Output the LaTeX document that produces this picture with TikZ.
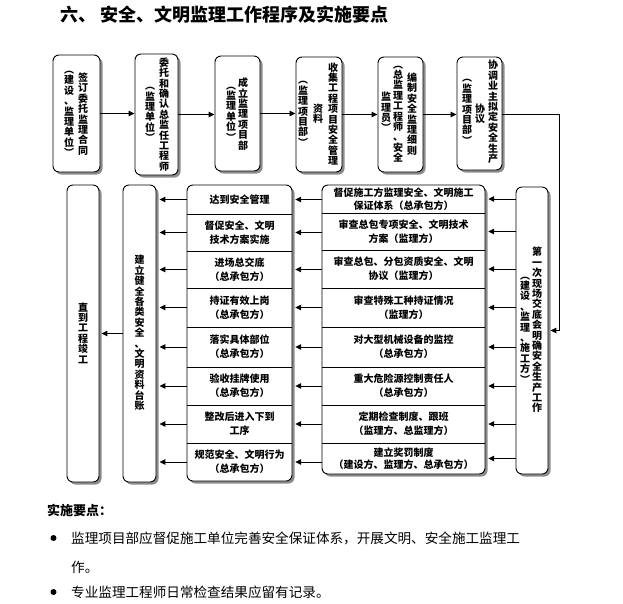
\documentclass[tikz,border=0pt]{standalone}
\usepackage{fontspec}
\setmainfont{Noto Sans CJK SC}
\usetikzlibrary{arrows.meta,shadows}
\def\vstEnd{vstEndMarker}
\def\vst#1{\vstA#1\vstEnd}
\def\vstA#1{#1\vstB}
\def\vstB#1{\ifx#1\vstEnd\else\\#1\expandafter\vstB\fi}
\tikzset{
 box/.style={draw, line width=0.9pt, rounded corners=6pt, fill=white, inner sep=0pt,
   drop shadow={shadow xshift=2.5pt, shadow yshift=-2.5pt, fill=black!45, opacity=1}},
 vcol/.style={align=center, inner sep=0pt, font=\bfseries\fontsize{10}{10.4}\selectfont},
 rowbox/.style={rectangle, inner sep=0pt, align=center, font=\bfseries\fontsize{10}{14}\selectfont},
 arr/.style={line width=1pt, -{Triangle[length=6pt,width=5.5pt]}},
 divider/.style={line width=0.9pt},
}
\begin{document}
\begin{tikzpicture}[x=1pt,y=-1pt]
\useasboundingbox (0,0) rectangle (623,603);
% title
\node[anchor=west, inner sep=0pt, font=\bfseries\fontsize{18}{18}\selectfont] (title) at (60,15) {六、 安全、文明监理工作程序及实施要点};
% top row boxes
\node[box, minimum width=47pt, minimum height=117pt] (T1) at (76.5,113.5) {};
\node[box, minimum width=43pt, minimum height=121pt] (T2) at (156.5,114.5) {};
\node[box, minimum width=45pt, minimum height=115pt] (T3) at (237.5,113.5) {};
\node[box, minimum width=46pt, minimum height=115pt] (T4) at (319,114.5) {};
\node[box, minimum width=45pt, minimum height=115pt] (T5) at (400.5,114.5) {};
\node[box, minimum width=45pt, minimum height=113pt] (T6) at (479.5,113.5) {};
% top row texts
\node[vcol] (t1r) at (83,114) {\vst{签订委托监理合同}};
\node[vcol] (t1l) at (69,114) {\vst{︵建设、监理单位︶}};
\node[vcol] (t2r) at (164,114.5) {\vst{委托和确认总监任工程师}};
\node[vcol] (t2l) at (150,114.5) {\vst{︵监理单位︶}};
\node[vcol] (t3r) at (243,114) {\vst{成立监理项目部}};
\node[vcol] (t3l) at (231,114) {\vst{︵监理单位︶}};
\node[vcol] (t4r) at (333,114) {\vst{收集工程项目安全管理}};
\node[vcol] (t4m) at (318,114) {\vst{资料}};
\node[vcol] (t4l) at (303,114) {\vst{︵监理项目部︶}};
\node[vcol] (t5r) at (412,114) {\vst{编制安全监理细则}};
\node[vcol] (t5m) at (398,114) {\vst{︵总监理工程师、安全}};
\node[vcol] (t5l) at (386,112) {\vst{监理员︶}};
\node[vcol] (t6r) at (493,112) {\vst{协调业主拟定安全生产}};
\node[vcol] (t6m) at (480,114) {\vst{协议}};
\node[vcol] (t6l) at (467,112) {\vst{︵监理项目部︶}};
% top row arrows
\draw[arr] (T1.east) -- (T1.east -| T2.west);
\draw[arr] (T2.east) -- (T2.east -| T3.west);
\draw[arr] (T3.east) -- (T3.east -| T4.west);
\draw[arr] (T4.east) -- (T4.east -| T5.west);
\draw[arr] (T5.east) -- (T5.east -| T6.west);
% second row boxes
\node[box, minimum width=32pt, minimum height=297pt] (D) at (83,333.5) {};
\node[box, minimum width=33pt, minimum height=297pt] (J) at (139.5,333.5) {};
\node[box, minimum width=105pt, minimum height=296pt] (LC) at (239.5,333) {};
\node[box, minimum width=163pt, minimum height=289pt] (RC) at (403.5,329.5) {};
\node[box, minimum width=32pt, minimum height=287pt] (RB) at (532,330.5) {};
\node[vcol] (dtxt) at (83,333) {\vst{直到工程竣工}};
\node[vcol] (jtxt) at (139.5,333) {\vst{建立健全各类安全、文明资料台账}};
\node[vcol] (rbr) at (537,330) {\vst{第一次现场交底会明确安全生产工作}};
\node[vcol] (rbl) at (525,330) {\vst{︵建设、监理、施工方︶}};
% left column rows
\node[rowbox, minimum width=105pt, minimum height=29pt] (L1) at (239.5,199.5) {达到安全管理};
\node[rowbox, minimum width=105pt, minimum height=37pt] (L2) at (239.5,232.5) {督促安全、文明\\技术方案实施};
\node[rowbox, minimum width=105pt, minimum height=37pt] (L3) at (239.5,269.5) {进场总交底\\（总承包方）};
\node[rowbox, minimum width=105pt, minimum height=39pt] (L4) at (239.5,307.5) {持证有效上岗\\（总承包方）};
\node[rowbox, minimum width=105pt, minimum height=40pt] (L5) at (239.5,347) {落实具体部位\\（总承包方）};
\node[rowbox, minimum width=105pt, minimum height=38pt] (L6) at (239.5,386) {验收挂牌使用\\（总承包方）};
\node[rowbox, minimum width=105pt, minimum height=38pt] (L7) at (239.5,424) {整改后进入下到\\工序};
\node[rowbox, minimum width=105pt, minimum height=38pt] (L8) at (239.5,462) {规范安全、文明行为\\（总承包方）};
\foreach \r in {L1,L2,L3,L4,L5,L6,L7} \draw[divider] (\r.south west) -- (\r.south east);
% right column rows
\node[rowbox, minimum width=163pt, minimum height=28pt] (R1) at (403.5,199) {督促施工方监理安全、文明施工\\[-1.5pt]保证体系（总承包方）};
\node[rowbox, minimum width=163pt, minimum height=37pt] (R2) at (403.5,231.5) {审查总包专项安全、文明技术\\方案（监理方）};
\node[rowbox, minimum width=163pt, minimum height=38pt] (R3) at (403.5,269) {审查总包、分包资质安全、文明\\协议（监理方）};
\node[rowbox, minimum width=163pt, minimum height=39pt] (R4) at (403.5,307.5) {审查特殊工种持证情况\\（监理方）};
\node[rowbox, minimum width=163pt, minimum height=40pt] (R5) at (403.5,347) {对大型机械设备的监控\\（总承包方）};
\node[rowbox, minimum width=163pt, minimum height=38pt] (R6) at (403.5,386) {重大危险源控制责任人\\（总承包方）};
\node[rowbox, minimum width=163pt, minimum height=38pt] (R7) at (403.5,424) {定期检查制度、跟班\\（监理方、总监理方）};
\node[rowbox, minimum width=163pt, minimum height=31pt] (R8) at (403.5,458.5) {建立奖罚制度\\[-2pt]（建设方、监理方、总承包方）};
\foreach \r in {R1,R2,R3,R4,R5,R6,R7} \draw[divider] (\r.south west) -- (\r.south east);
% connector from T6 to RB
\coordinate (bend) at (559,114);
\draw[arr] (T6.east |- bend) -- (bend) |- ([xshift=2pt]RB.east);
% arrows RB -> right column
\foreach \r in {R1,R2,R3,R4,R5,R6,R7,R8} \draw[arr] (RB.west |- \r.east) -- ([xshift=3pt]\r.east);
% arrows right column -> left column
\foreach \i in {1,...,8} \draw[arr] (R\i.west |- L\i.east) -- ([xshift=3pt]L\i.east);
% arrows left column -> J
\foreach \i in {1,...,8} \draw[arr] (L\i.west) -- ([xshift=3pt]J.east |- L\i.west);
% J -> D
\draw[arr] (J.west) -- ([xshift=2pt]D.east);
% bottom text
\node[anchor=west, inner sep=0pt, font=\bfseries\fontsize{13}{13}\selectfont] (head) at (47,510) {实施要点：};
\fill (53.5,538) circle (3pt);
\node[anchor=west, inner sep=0pt, font=\fontsize{13.6}{13.6}\selectfont] (p1) at (71,538) {监理项目部应督促施工单位完善安全保证体系，开展文明、安全施工监理工};
\node[anchor=west, inner sep=0pt, font=\fontsize{13.6}{13.6}\selectfont] (p1b) at (71,567) {作。};
\fill (53.5,592) circle (3pt);
\node[anchor=west, inner sep=0pt, font=\fontsize{13.6}{13.6}\selectfont] (p2) at (71,592) {专业监理工程师日常检查结果应留有记录。};
\end{tikzpicture}
\end{document}
